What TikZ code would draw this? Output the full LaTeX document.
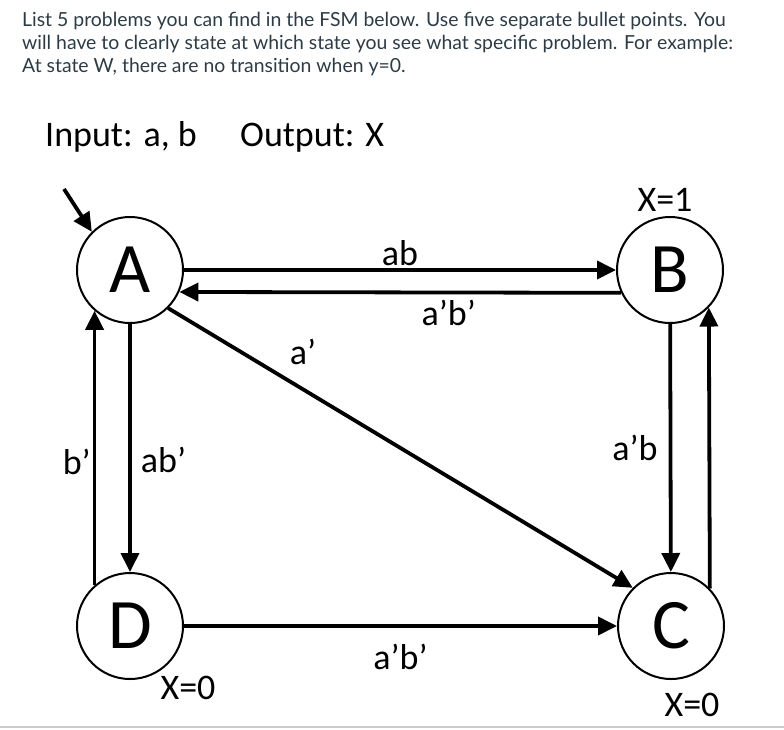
\documentclass[tikz,border=0pt]{standalone}
\usepackage{fontspec}
\setmainfont{Carlito}
\newfontfamily\latofont{Lato}
\usetikzlibrary{arrows.meta}
\definecolor{canvasgray}{HTML}{2D3B45}

\begin{document}
\begin{tikzpicture}[x=1pt, y=-1pt,
  state/.style={circle, draw, line width=2pt, minimum size=106pt, inner sep=0pt, font=\fontsize{71}{71}\selectfont},
  arr/.style={-{Triangle[length=19pt,width=18pt]}, line width=3.8pt},
  lbl/.style={font=\fontsize{36}{40}\selectfont, inner sep=2pt}]
\useasboundingbox (0,0) rectangle (784,729);

% question text
\node[anchor=base west, inner sep=0pt, font=\latofont\fontsize{19.4}{23}\selectfont, text=canvasgray] (q1) at (22,26)
  {List 5 problems you can find in the FSM below. Use five separate bullet points. You};
\node[anchor=base west, inner sep=0pt, font=\latofont\fontsize{19.4}{23}\selectfont, text=canvasgray] (q2) at (22,49)
  {will have to clearly state at which state you see what specific problem. For example:};
\node[anchor=base west, inner sep=0pt, font=\latofont\fontsize{19.4}{23}\selectfont, text=canvasgray] (q3) at (22,72)
  {At state W, there are no transition when y=0.};
\node[anchor=base west, lbl] (inp) at (43,146) {Input: a, b};
\node[anchor=base west, lbl] (outp) at (238,146) {Output: X};

\node[state, label={[lbl, label distance=2pt, xshift=-5pt]above:X=1}] (B) at (670,270) {B};
\node[state] (A) at (130,270) {A};
\node[state, label={[lbl, label distance=-6pt, xshift=58pt]below:X=0}] (D) at (130,626) {D};
\node[state, label={[lbl, label distance=11pt, xshift=21pt]below:X=0}] (C) at (671,626) {C};

\coordinate (start) at (64,189);
\draw[arr] (start) -- (A.135);

\draw[arr] (A) -- node[lbl, above, pos=.5]{ab} (B);
\draw[arr] (B.-155.5) -- node[lbl, below=4pt, pos=.39]{a'b'} (A.-24.5);
\draw[arr] (A.-45) -- node[lbl, above=21pt, pos=.29]{a'} (C.135);
\draw[arr] (A) -- node[lbl, right=7pt, pos=.55]{ab'} (D);
\draw[arr] (D.131.3) -- node[lbl, left, pos=.45]{b'} (A.-131.3);
\draw[arr] (B) -- node[lbl, left=9pt, pos=.5]{a'b} (C);
\draw[arr] (C.44.2) -- (B.-44.2);
\draw[arr] (D) -- node[lbl, below=14pt, pos=.5]{a'b'} (C);

\draw[line width=2pt, black!20] (0,727) -- (784,727);
\end{tikzpicture}
\end{document}
